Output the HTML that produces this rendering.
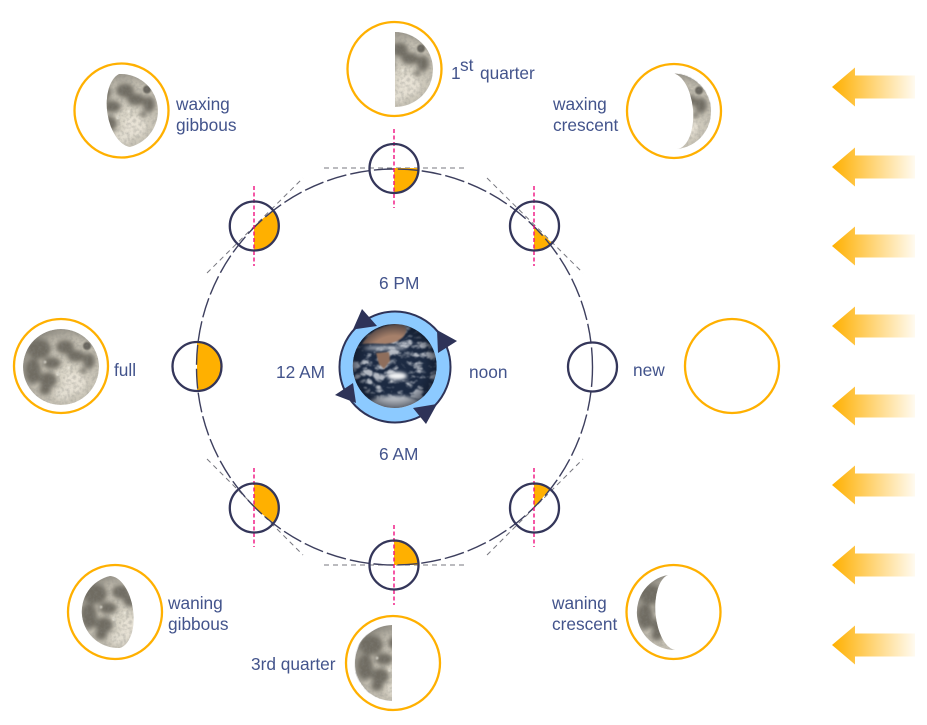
<!DOCTYPE html>
<html>
<head>
<meta charset="utf-8">
<style>
html,body{margin:0;padding:0;background:#fff;width:927px;height:725px;overflow:hidden}
svg{display:block}
text{font-family:"Liberation Sans",sans-serif;font-size:17.300px;fill:#43548c}
</style>
</head>
<body>
<svg width="927" height="725" viewBox="0 0 927 725" xmlns="http://www.w3.org/2000/svg">
<defs>
<linearGradient id="sun" x1="0" x2="1" y1="0" y2="0">
<stop offset="0" stop-color="#ffb000"/>
<stop offset="1" stop-color="#ffb000" stop-opacity="0.06"/>
</linearGradient>
<radialGradient id="mbase" cx="0.6" cy="0.62" r="0.66">
<stop offset="0" stop-color="#dfdacc"/>
<stop offset="0.72" stop-color="#c2bdb0"/>
<stop offset="1" stop-color="#8e8a80"/>
</radialGradient>
<radialGradient id="limb" cx="0.5" cy="0.5" r="0.5">
<stop offset="0.72" stop-color="#0d1524" stop-opacity="0"/>
<stop offset="1" stop-color="#0d1524" stop-opacity="0.55"/>
</radialGradient>
<filter id="b3" x="-50%" y="-50%" width="200%" height="200%"><feGaussianBlur stdDeviation="2.300"/></filter>
<filter id="b2" x="-40%" y="-40%" width="180%" height="180%"><feGaussianBlur stdDeviation="1.800"/></filter>
<filter id="b1" x="-40%" y="-40%" width="180%" height="180%"><feGaussianBlur stdDeviation="0.800"/></filter>
<filter id="grain" x="0" y="0" width="100%" height="100%">
<feTurbulence type="fractalNoise" baseFrequency="0.32" numOctaves="2" seed="4"/>
<feColorMatrix values="0 0 0 0 0.25  0 0 0 0 0.25  0 0 0 0 0.23  1.800 0 0 0 -0.700"/>
</filter>
<filter id="cloud" x="0" y="0" width="100%" height="100%">
<feTurbulence type="turbulence" baseFrequency="0.075 0.1" numOctaves="3" seed="11"/>
<feColorMatrix values="0 0 0 0 0.9  0 0 0 0 0.92  0 0 0 0 0.95  3.200 0 0 0 -0.850"/>
<feGaussianBlur stdDeviation="0.650"/>
</filter>
<g id="moon">
<circle r="38" fill="url(#mbase)"/>
<g fill="#6f6c62" filter="url(#b3)">
<ellipse cx="-22" cy="-18" rx="12" ry="10"/>
<ellipse cx="4" cy="-20" rx="9" ry="7"/>
<ellipse cx="15" cy="-11" rx="9" ry="6"/>
<ellipse cx="-28" cy="4" rx="8" ry="13"/>
<ellipse cx="-13" cy="13" rx="9" ry="8"/>
<ellipse cx="-16" cy="23" rx="6" ry="5"/>
<ellipse cx="28" cy="-6" rx="6" ry="8"/>
<ellipse cx="-9" cy="-4" rx="9" ry="6"/>
<ellipse cx="22" cy="4" rx="3" ry="3"/>
</g>
<circle cx="26" cy="-21" r="4" fill="#66635b" filter="url(#b1)"/>
<g fill="#efeadd" filter="url(#b2)">
<ellipse cx="14" cy="16" rx="11" ry="10" opacity=".65"/>
<ellipse cx="2" cy="27" rx="8" ry="6" opacity=".6"/>
</g>
<g fill="#f2eee2" filter="url(#b1)">
<circle cx="-16" cy="-5" r="1.300"/>
<circle cx="-3" cy="7" r="1.500"/>
<circle cx="8" cy="1" r="1.200"/>
</g>
<rect x="-38" y="-38" width="76" height="76" filter="url(#grain)" opacity=".45"/>
</g>
<clipPath id="cFull"><circle cx="61" cy="367" r="38"/></clipPath>
<clipPath id="cWaxG"><path d="M119,74 A37.100,37.100 0 0 1 130,147 A21,37.500 -8 0 1 119,74Z"/></clipPath>
<clipPath id="c1st"><path d="M395,32 A38,37.500 0 0 1 395,107Z"/></clipPath>
<clipPath id="cWaxC"><path d="M670,73 A37.900,37.900 0 0 1 677,149 A19.500,38 -5 0 0 670,73Z"/></clipPath>
<clipPath id="cWanC"><path d="M668,575 A37.800,37.800 0 0 0 675,650 A18.500,38 -5 0 1 668,575Z"/></clipPath>
<clipPath id="c3rd"><path d="M392,625 A38,38 0 0 0 392,701Z"/></clipPath>
<clipPath id="cWanG"><path d="M110,576 A36.500,36.500 0 0 0 120,648 A20,36.500 -8 0 0 110,576Z"/></clipPath>
<clipPath id="cEarth"><circle cx="394.700" cy="366" r="42"/></clipPath>
<path id="arr" d="M832,0 L855,-19.500 L855,-11.500 L915,-11.500 L915,11.500 L855,11.500 L855,19.500Z" fill="url(#sun)"/>
</defs>

<!-- sun arrows -->
<use href="#arr" y="87"/><use href="#arr" y="167"/><use href="#arr" y="246"/><use href="#arr" y="326"/>
<use href="#arr" y="406"/><use href="#arr" y="485"/><use href="#arr" y="565"/><use href="#arr" y="645"/>

<!-- tangents -->
<g stroke="#77777f" stroke-width="1" stroke-dasharray="5 4" fill="none">
<path d="M324,168 H466"/>
<path d="M324,565 H466"/>
<path d="M207,273 L303,178"/>
<path d="M487,178 L583,273"/>
<path d="M207,459 L303,555"/>
<path d="M487,555 L583,459"/>
</g>

<!-- orange fills -->
<g fill="#ffb000">
<path d="M394,168 H418.300 A24.500,24.500 0 0 1 394,193Z"/>
<path d="M254,226 L273,210 A24.500,24.500 0 0 1 254,250.500Z"/>
<path d="M534,226 L552,243 A24.500,24.500 0 0 1 534,250.500Z"/>
<path d="M197,342 A24.500,24.500 0 0 1 197,391Z"/>
<path d="M254,483.500 A24.500,24.500 0 0 1 274,523 L254,508Z"/>
<path d="M534,483.500 A24.500,24.500 0 0 1 550,489 L534,508Z"/>
<path d="M394,541 A24.500,24.500 0 0 1 418.500,565 H394Z"/>
</g>

<!-- orbit -->
<circle cx="394.500" cy="367" r="198" fill="none" stroke="#3d3f5e" stroke-width="1.400" stroke-dasharray="20 4"/>

<!-- magenta -->
<g stroke="#f0107f" stroke-width="1.400" stroke-dasharray="4 2.500" fill="none">
<path d="M394,129 V208"/>
<path d="M254,186 V266"/>
<path d="M534,186 V266"/>
<path d="M254,468 V547"/>
<path d="M534,468 V547"/>
<path d="M394,525 V605"/>
</g>

<!-- small circles -->
<g fill="none" stroke="#34365a" stroke-width="2.300">
<circle cx="394" cy="168.500" r="24.500"/>
<circle cx="254.300" cy="226" r="24.500"/>
<circle cx="534.500" cy="226" r="24.500"/>
<circle cx="592.500" cy="367" r="24.500"/>
<circle cx="534.500" cy="508" r="24.500"/>
<circle cx="394" cy="565" r="24.500"/>
<circle cx="254.300" cy="508" r="24.500"/>
<circle cx="197" cy="366.500" r="24.500"/>
</g>

<!-- rings -->
<g fill="none" stroke="#ffb000" stroke-width="2.300">
<circle cx="121.500" cy="110.500" r="47"/>
<circle cx="394.500" cy="69" r="47"/>
<circle cx="674" cy="111" r="47"/>
<circle cx="61" cy="366" r="47"/>
<circle cx="732" cy="366" r="47"/>
<circle cx="115" cy="612" r="47"/>
<circle cx="393" cy="663" r="47"/>
<circle cx="673.500" cy="612" r="47"/>
</g>

<!-- moons -->
<g clip-path="url(#cFull)"><use href="#moon" x="61" y="367"/></g>
<g clip-path="url(#cWaxG)"><use href="#moon" x="121" y="110.500"/></g>
<g clip-path="url(#c1st)"><use href="#moon" x="395" y="69.500"/></g>
<g clip-path="url(#cWaxC)"><use href="#moon" x="673" y="111.500"/></g>
<g clip-path="url(#cWanC)"><use href="#moon" x="673" y="612.500"/></g>
<g clip-path="url(#c3rd)"><use href="#moon" x="393" y="663"/></g>
<g clip-path="url(#cWanG)"><use href="#moon" x="117" y="612"/></g>

<!-- earth -->
<circle cx="395" cy="367" r="55.500" fill="#8ccaff" stroke="#2e3358" stroke-width="2"/>
<g clip-path="url(#cEarth)">
<circle cx="394.700" cy="366" r="42" fill="#1c2a42"/>
<rect x="352" y="323" width="86" height="86" filter="url(#cloud)" opacity=".7"/>
<g filter="url(#b1)">
<path d="M362,344 Q372,327 395,324 Q412,324 404,336 Q398,343 385,344 Q372,343 362,344Z" fill="#a6806a"/>
<path d="M376,353 L389,352 L390,361 L384,369 L379,364Z" fill="#8f6e5c"/>
</g>
<g filter="url(#b2)">
<ellipse cx="395" cy="403" rx="26" ry="7" fill="#cfd3d9"/>
<ellipse cx="397" cy="376" rx="10" ry="4" fill="#f4f5f7"/>
<ellipse cx="385" cy="348" rx="22" ry="2" fill="#dfe3e8" opacity=".75"/>
</g>
<circle cx="394.700" cy="366" r="42" fill="url(#limb)"/>
</g>

<!-- earth arrows -->
<g fill="#2e3358">
<path d="M362,309 L377,326 L353,329.500Z"/>
<path d="M437,330 L457,341 L438,353Z"/>
<path d="M413,408 L437,404 L426,424Z"/>
<path d="M335,395 L353,383 L356,403Z"/>
</g>

<!-- labels -->
<text x="176" y="110">waxing</text>
<text x="176" y="131">gibbous</text>
<text x="451" y="79">1</text>
<text x="460" y="71">st</text>
<text x="480" y="79">quarter</text>
<text x="553" y="110">waxing</text>
<text x="553" y="131">crescent</text>
<text x="114" y="376">full</text>
<text x="633" y="376">new</text>
<text x="469" y="378">noon</text>
<text x="276" y="378">12 AM</text>
<text x="379" y="289">6 PM</text>
<text x="379" y="460">6 AM</text>
<text x="168" y="609">waning</text>
<text x="168" y="630">gibbous</text>
<text x="552" y="609">waning</text>
<text x="552" y="630">crescent</text>
<text x="251" y="670">3rd quarter</text>
</svg>
</body>
</html>
